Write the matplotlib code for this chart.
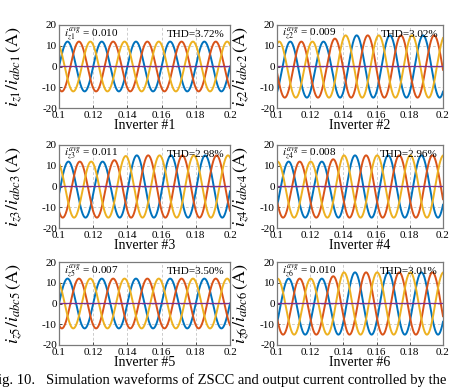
import numpy as np
import matplotlib.pyplot as plt

plt.rcParams['font.family'] = ['Liberation Serif', 'DejaVu Serif']
plt.rcParams['mathtext.fontset'] = 'stix'
plt.rcParams['axes.unicode_minus'] = False

# waveform data
f_grid = 50.0
t_start, t_end = 0.1, 0.2
inverter_names = ['#1', '#2', '#3', '#4', '#5', '#6']
zscc_avg = ['0.010', '0.009', '0.011', '0.008', '0.007', '0.010']
thd = ['3.72', '3.02', '2.98', '2.96', '3.50', '3.01']
amp_early = [12.0, 13.5, 13.5, 13.5, 12.0, 13.5]
amp_late = [12.0, 15.0, 15.0, 15.0, 12.0, 15.0]
offset_early = [0.0, -1.5, -1.5, -1.5, 0.0, -1.5]
step_time = [0.13, 0.13, 0.13, 0.13, 0.13, 0.13]
phase_delay = [0.0, 0.003, 0.0005, 0.002, 0.0, 0.002]  # s, delay of phase a
zscc_level = [0.010, 0.009, 0.011, 0.008, 0.007, 0.010]

x_ticks = [0.1, 0.12, 0.14, 0.16, 0.18, 0.2]
x_ticklabels = ['0.1', '0.12', '0.14', '0.16', '0.18', '0.2']
y_ticks = [-20, -10, 0, 10, 20]

colors = ['#0072BD', '#D95319', '#EDB120']
zscc_color = '#7E2F8E'

W, H = 474, 392
fig = plt.figure(figsize=(W / 100, H / 100), dpi=100)

col_left = [59, 277]
col_width = [171, 166]
row_top = [25, 145, 262]
ax_h = 83
label_x = [-0.2, -0.15]

t = np.linspace(t_start, t_end, 2000)

for k in range(6):
    r, c = divmod(k, 2)
    ax = fig.add_axes([col_left[c] / W, 1 - (row_top[r] + ax_h) / H,
                       col_width[c] / W, ax_h / H])
    # envelope goes from the early to the late level over a short window
    w = np.clip((t - step_time[k]) / 0.01, 0, 1)
    amp = amp_early[k] + (amp_late[k] - amp_early[k]) * w
    off = offset_early[k] * (1 - w)
    theta = 2 * np.pi * f_grid * (t - t_start - phase_delay[k])
    for p, col in enumerate(colors):
        ax.plot(t, amp * np.sin(theta - p * 2 * np.pi / 3) + off,
                color=col, lw=1.4)
    ax.plot(t, np.full_like(t, zscc_level[k]), color=zscc_color, lw=0.9)

    ax.set_xlim(t_start, t_end)
    ax.set_ylim(-20, 20)
    ax.set_xticks(x_ticks)
    ax.set_xticklabels(x_ticklabels)
    ax.set_yticks(y_ticks)
    ax.tick_params(direction='in', length=2, width=0.6, labelsize=8,
                   colors='#333333', labelcolor='black')
    ax.tick_params(axis='x', pad=2.5)
    ax.tick_params(axis='y', pad=1.5)
    ax.grid(True, ls=(0, (4, 3)), lw=0.5, color='#b8b8b8')
    ax.set_axisbelow(True)
    for s in ax.spines.values():
        s.set_color('#7a7a7a')
        s.set_linewidth(0.9)

    n = k + 1
    ax.set_xlabel('Inverter ' + inverter_names[k], fontsize=10, labelpad=-1)
    ax.set_ylabel(r'$i_{z%d}/i_{abc%d}\,(\mathrm{A})$' % (n, n), fontsize=13)
    ax.yaxis.set_label_coords(label_x[c], 0.5)

    ax.text(0.03, 0.89, r'$i_{z%d}^{avg}$ = %s' % (n, zscc_avg[k]),
            transform=ax.transAxes, fontsize=8, va='center', ha='left')
    ax.text(0.97, 0.89, 'THD=%s%%' % thd[k],
            transform=ax.transAxes, fontsize=8, va='center', ha='right')

fig.text(-0.022, 1 - 380 / H,
         'Fig. 10.   Simulation waveforms of ZSCC and output current controlled by the',
         fontsize=10.5, ha='left', va='center')

fig.savefig('out.png', dpi=100)
